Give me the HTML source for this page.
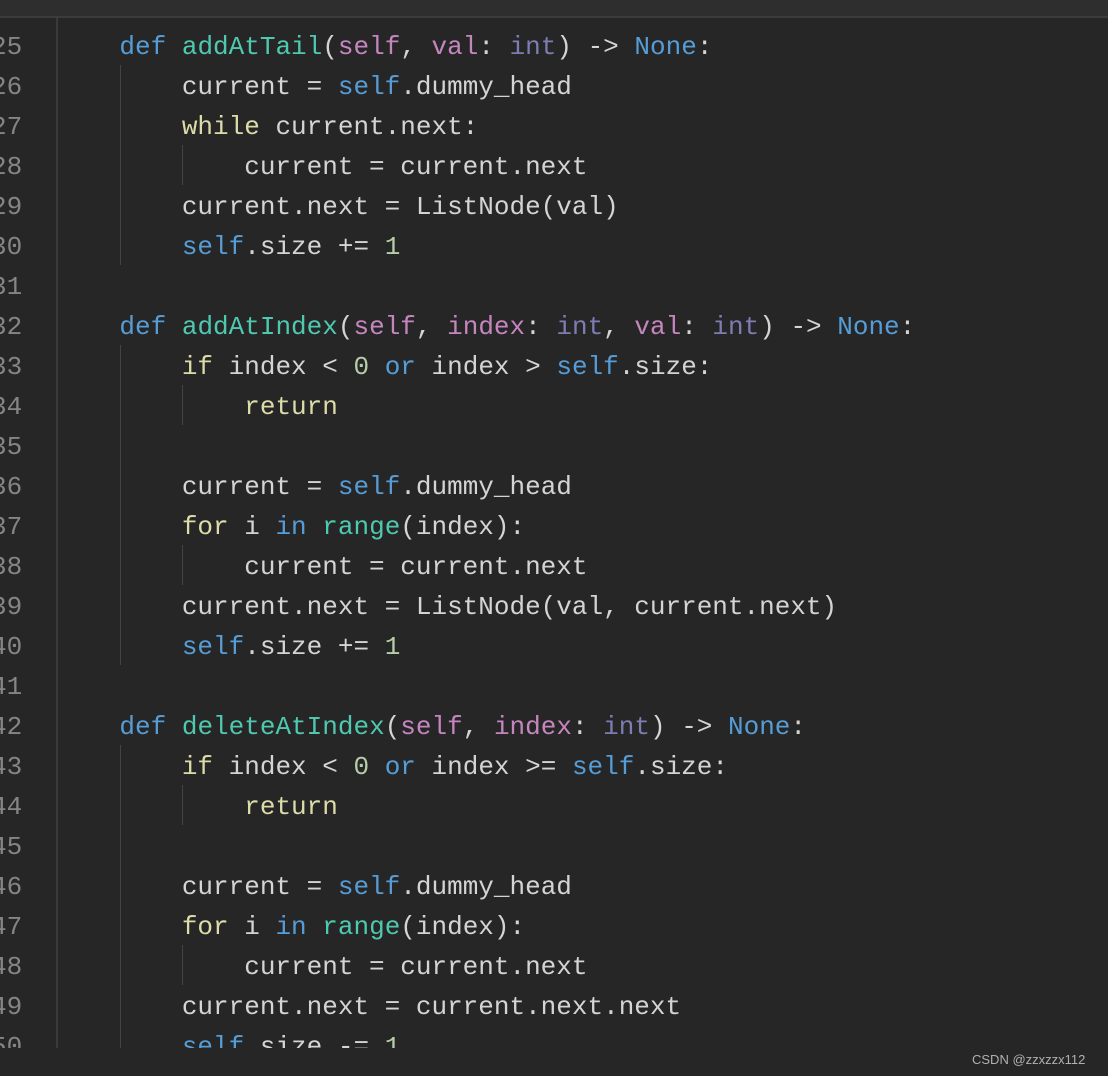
<!DOCTYPE html>
<html><head><meta charset="utf-8"><style>
html,body{margin:0;padding:0;}
body{width:1108px;height:1076px;background:#262626;position:relative;overflow:hidden;font-family:"Liberation Mono",monospace;}
.top{position:absolute;left:0;top:0;width:1108px;height:16px;background:#2e2e2e;border-bottom:2px solid #3c3c3c;}
.vl{position:absolute;left:56px;top:18px;width:2px;height:1030px;background:#3a3a3a;}
.clip{position:absolute;left:0;top:18px;width:1108px;height:1030px;overflow:hidden;}
.ln{position:absolute;left:-9px;width:40px;font-size:26px;line-height:40px;color:#858585;white-space:pre;}
.c{position:absolute;left:57px;font-size:26px;line-height:40px;color:#d4d4d4;white-space:pre;}
.g{position:absolute;width:1px;background:#444;}
.k{color:#569cd6}.f{color:#4ec9b0}.p{color:#c586c0}.t{color:#7d7db3}.y{color:#dcdcaa}.n{color:#b5cea8}
.wm{position:absolute;left:972px;top:1052px;font-family:"Liberation Sans",sans-serif;font-size:13px;color:#b0b0b0;}
</style></head><body>
<div class="top"></div>
<div class="clip">
<div class="g" style="left:120px;top:47px;height:200px"></div>
<div class="g" style="left:120px;top:327px;height:320px"></div>
<div class="g" style="left:120px;top:727px;height:320px"></div>
<div class="g" style="left:182px;top:127px;height:40px"></div>
<div class="g" style="left:182px;top:367px;height:40px"></div>
<div class="g" style="left:182px;top:527px;height:40px"></div>
<div class="g" style="left:182px;top:767px;height:40px"></div>
<div class="g" style="left:182px;top:927px;height:40px"></div>
<div class="ln" style="top:9px">25
26
27
28
29
30
31
32
33
34
35
36
37
38
39
40
41
42
43
44
45
46
47
48
49
50</div>
<div class="c" style="top:9px">    <span class="k">def</span> <span class="f">addAtTail</span>(<span class="p">self</span>, <span class="p">val</span>: <span class="t">int</span>) -&gt; <span class="k">None</span>:
        current = <span class="k">self</span>.dummy_head
        <span class="y">while</span> current.next:
            current = current.next
        current.next = ListNode(val)
        <span class="k">self</span>.size += <span class="n">1</span>

    <span class="k">def</span> <span class="f">addAtIndex</span>(<span class="p">self</span>, <span class="p">index</span>: <span class="t">int</span>, <span class="p">val</span>: <span class="t">int</span>) -&gt; <span class="k">None</span>:
        <span class="y">if</span> index &lt; <span class="n">0</span> <span class="k">or</span> index &gt; <span class="k">self</span>.size:
            <span class="y">return</span>

        current = <span class="k">self</span>.dummy_head
        <span class="y">for</span> i <span class="k">in</span> <span class="f">range</span>(index):
            current = current.next
        current.next = ListNode(val, current.next)
        <span class="k">self</span>.size += <span class="n">1</span>

    <span class="k">def</span> <span class="f">deleteAtIndex</span>(<span class="p">self</span>, <span class="p">index</span>: <span class="t">int</span>) -&gt; <span class="k">None</span>:
        <span class="y">if</span> index &lt; <span class="n">0</span> <span class="k">or</span> index &gt;= <span class="k">self</span>.size:
            <span class="y">return</span>

        current = <span class="k">self</span>.dummy_head
        <span class="y">for</span> i <span class="k">in</span> <span class="f">range</span>(index):
            current = current.next
        current.next = current.next.next
        <span class="k">self</span>.size -= <span class="n">1</span></div>
</div>
<div class="vl"></div>
<div class="wm">CSDN @zzxzzx112</div>
</body></html>
